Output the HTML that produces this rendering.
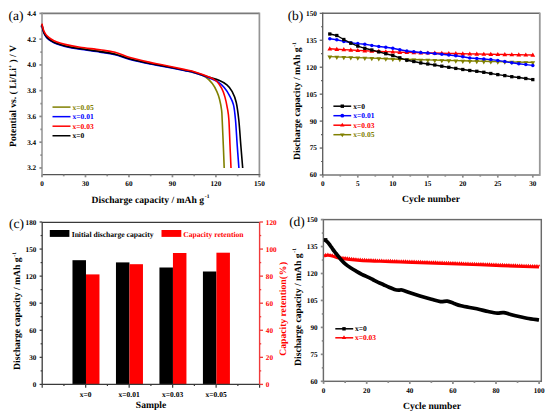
<!DOCTYPE html>
<html><head><meta charset="utf-8"><style>
html,body{margin:0;padding:0;background:#fff;width:550px;height:414px;overflow:hidden}
svg{display:block}
text{font-family:"Liberation Serif", serif;text-rendering:geometricPrecision}
</style></head><body>
<svg width="550" height="414" viewBox="0 0 550 414">
<rect width="550" height="414" fill="#fff"/>
<line x1="42.00" y1="13.40" x2="259.40" y2="13.40" stroke="#7a7a7a" stroke-width="1.6"/>
<line x1="259.40" y1="12.60" x2="259.40" y2="175.40" stroke="#959595" stroke-width="1.7"/>
<line x1="42.00" y1="174.70" x2="260.25" y2="174.70" stroke="#555555" stroke-width="1.3"/>
<line x1="42.00" y1="12.60" x2="42.00" y2="175.40" stroke="#999999" stroke-width="1.6"/>
<line x1="39.40" y1="13.40" x2="42.00" y2="13.40" stroke="#8a8a8a" stroke-width="1.7"/>
<text x="36.20" y="15.80" font-size="7.2" text-anchor="end" font-weight="bold" fill="#000" >4.4</text>
<line x1="40.40" y1="26.28" x2="42.00" y2="26.28" stroke="#8a8a8a" stroke-width="1.7"/>
<line x1="39.40" y1="39.16" x2="42.00" y2="39.16" stroke="#8a8a8a" stroke-width="1.7"/>
<text x="36.20" y="41.56" font-size="7.2" text-anchor="end" font-weight="bold" fill="#000" >4.2</text>
<line x1="40.40" y1="52.04" x2="42.00" y2="52.04" stroke="#8a8a8a" stroke-width="1.7"/>
<line x1="39.40" y1="64.92" x2="42.00" y2="64.92" stroke="#8a8a8a" stroke-width="1.7"/>
<text x="36.20" y="67.32" font-size="7.2" text-anchor="end" font-weight="bold" fill="#000" >4.0</text>
<line x1="40.40" y1="77.80" x2="42.00" y2="77.80" stroke="#8a8a8a" stroke-width="1.7"/>
<line x1="39.40" y1="90.68" x2="42.00" y2="90.68" stroke="#8a8a8a" stroke-width="1.7"/>
<text x="36.20" y="93.08" font-size="7.2" text-anchor="end" font-weight="bold" fill="#000" >3.8</text>
<line x1="40.40" y1="103.56" x2="42.00" y2="103.56" stroke="#8a8a8a" stroke-width="1.7"/>
<line x1="39.40" y1="116.44" x2="42.00" y2="116.44" stroke="#8a8a8a" stroke-width="1.7"/>
<text x="36.20" y="118.84" font-size="7.2" text-anchor="end" font-weight="bold" fill="#000" >3.6</text>
<line x1="40.40" y1="129.32" x2="42.00" y2="129.32" stroke="#8a8a8a" stroke-width="1.7"/>
<line x1="39.40" y1="142.20" x2="42.00" y2="142.20" stroke="#8a8a8a" stroke-width="1.7"/>
<text x="36.20" y="144.60" font-size="7.2" text-anchor="end" font-weight="bold" fill="#000" >3.4</text>
<line x1="40.40" y1="155.08" x2="42.00" y2="155.08" stroke="#8a8a8a" stroke-width="1.7"/>
<line x1="39.40" y1="167.96" x2="42.00" y2="167.96" stroke="#8a8a8a" stroke-width="1.7"/>
<text x="36.20" y="170.36" font-size="7.2" text-anchor="end" font-weight="bold" fill="#000" >3.2</text>
<line x1="42.00" y1="174.70" x2="42.00" y2="177.30" stroke="#8a8a8a" stroke-width="1.7"/>
<text x="42.00" y="186.40" font-size="7.2" text-anchor="middle" font-weight="bold" fill="#000" >0</text>
<line x1="63.74" y1="174.70" x2="63.74" y2="176.30" stroke="#8a8a8a" stroke-width="1.7"/>
<line x1="85.48" y1="174.70" x2="85.48" y2="177.30" stroke="#8a8a8a" stroke-width="1.7"/>
<text x="85.48" y="186.40" font-size="7.2" text-anchor="middle" font-weight="bold" fill="#000" >30</text>
<line x1="107.22" y1="174.70" x2="107.22" y2="176.30" stroke="#8a8a8a" stroke-width="1.7"/>
<line x1="128.96" y1="174.70" x2="128.96" y2="177.30" stroke="#8a8a8a" stroke-width="1.7"/>
<text x="128.96" y="186.40" font-size="7.2" text-anchor="middle" font-weight="bold" fill="#000" >60</text>
<line x1="150.70" y1="174.70" x2="150.70" y2="176.30" stroke="#8a8a8a" stroke-width="1.7"/>
<line x1="172.44" y1="174.70" x2="172.44" y2="177.30" stroke="#8a8a8a" stroke-width="1.7"/>
<text x="172.44" y="186.40" font-size="7.2" text-anchor="middle" font-weight="bold" fill="#000" >90</text>
<line x1="194.18" y1="174.70" x2="194.18" y2="176.30" stroke="#8a8a8a" stroke-width="1.7"/>
<line x1="215.92" y1="174.70" x2="215.92" y2="177.30" stroke="#8a8a8a" stroke-width="1.7"/>
<text x="215.92" y="186.40" font-size="7.2" text-anchor="middle" font-weight="bold" fill="#000" >120</text>
<line x1="237.66" y1="174.70" x2="237.66" y2="176.30" stroke="#8a8a8a" stroke-width="1.7"/>
<line x1="259.40" y1="174.70" x2="259.40" y2="177.30" stroke="#8a8a8a" stroke-width="1.7"/>
<text x="259.40" y="186.40" font-size="7.2" text-anchor="middle" font-weight="bold" fill="#000" >150</text>
<path d="M42.00,24.50 C42.13,25.25 42.42,27.50 42.80,29.00 C43.18,30.50 43.60,32.08 44.30,33.50 C45.00,34.92 45.88,36.33 47.00,37.50 C48.12,38.67 49.33,39.50 51.00,40.50 C52.67,41.50 54.67,42.62 57.00,43.50 C59.33,44.38 61.17,44.97 65.00,45.80 C68.83,46.63 74.17,47.58 80.00,48.50 C85.83,49.42 94.17,50.38 100.00,51.30 C105.83,52.22 110.00,52.77 115.00,54.00 C120.00,55.23 124.17,57.12 130.00,58.70 C135.83,60.28 144.67,62.35 150.00,63.50 C155.33,64.65 156.33,64.48 162.00,65.60 C167.67,66.72 178.50,68.97 184.00,70.20 C189.50,71.43 191.40,71.87 195.00,73.00 C198.60,74.13 202.72,75.23 205.60,77.00 C208.48,78.77 210.42,81.17 212.30,83.60 C214.18,86.03 215.68,88.95 216.90,91.60 C218.12,94.25 218.82,96.40 219.60,99.50 C220.38,102.60 221.17,106.78 221.60,110.20 C222.03,113.62 221.92,114.20 222.20,120.00 C222.48,125.80 222.97,137.00 223.30,145.00 C223.63,153.00 224.05,164.17 224.20,168.00" fill="none" stroke="#808000" stroke-width="1.6" stroke-linejoin="round"/>
<path d="M42.00,24.90 C42.13,25.63 42.42,27.80 42.80,29.30 C43.18,30.80 43.60,32.47 44.30,33.90 C45.00,35.33 45.88,36.70 47.00,37.90 C48.12,39.10 49.33,40.07 51.00,41.10 C52.67,42.13 54.67,43.20 57.00,44.10 C59.33,45.00 61.17,45.63 65.00,46.50 C68.83,47.37 74.17,48.37 80.00,49.30 C85.83,50.23 94.17,51.20 100.00,52.10 C105.83,53.00 110.00,53.48 115.00,54.70 C120.00,55.92 124.17,57.85 130.00,59.40 C135.83,60.95 144.67,62.88 150.00,64.00 C155.33,65.12 156.33,65.02 162.00,66.10 C167.67,67.18 178.50,69.37 184.00,70.50 C189.50,71.63 190.95,71.72 195.00,72.90 C199.05,74.08 204.53,76.15 208.30,77.60 C212.07,79.05 214.95,79.93 217.60,81.60 C220.25,83.27 222.22,85.27 224.20,87.60 C226.18,89.93 227.95,92.72 229.50,95.60 C231.05,98.48 232.50,100.83 233.50,104.90 C234.50,108.97 234.88,113.32 235.50,120.00 C236.12,126.68 236.63,137.00 237.20,145.00 C237.77,153.00 238.62,164.17 238.90,168.00" fill="none" stroke="#0000ff" stroke-width="1.6" stroke-linejoin="round"/>
<path d="M42.00,24.40 C42.13,25.13 42.42,27.30 42.80,28.80 C43.18,30.30 43.60,31.97 44.30,33.40 C45.00,34.83 45.88,36.20 47.00,37.40 C48.12,38.60 49.33,39.57 51.00,40.60 C52.67,41.63 54.67,42.70 57.00,43.60 C59.33,44.50 61.17,45.13 65.00,46.00 C68.83,46.87 74.17,47.87 80.00,48.80 C85.83,49.73 94.17,50.70 100.00,51.60 C105.83,52.50 110.00,52.98 115.00,54.20 C120.00,55.42 124.17,57.35 130.00,58.90 C135.83,60.45 144.67,62.38 150.00,63.50 C155.33,64.62 156.33,64.52 162.00,65.60 C167.67,66.68 178.50,68.87 184.00,70.00 C189.50,71.13 190.95,71.23 195.00,72.40 C199.05,73.57 204.32,75.68 208.30,77.00 C212.28,78.32 215.80,78.98 218.90,80.30 C222.00,81.62 224.68,83.02 226.90,84.90 C229.12,86.78 230.65,88.72 232.20,91.60 C233.75,94.48 235.10,97.47 236.20,102.20 C237.30,106.93 238.03,112.87 238.80,120.00 C239.57,127.13 240.15,137.00 240.80,145.00 C241.45,153.00 242.38,164.17 242.70,168.00" fill="none" stroke="#000000" stroke-width="1.6" stroke-linejoin="round"/>
<path d="M42.00,23.60 C42.13,24.27 42.42,26.23 42.80,27.60 C43.18,28.97 43.60,30.43 44.30,31.80 C45.00,33.17 45.88,34.60 47.00,35.80 C48.12,37.00 49.33,37.97 51.00,39.00 C52.67,40.03 54.67,41.10 57.00,42.00 C59.33,42.90 61.17,43.53 65.00,44.40 C68.83,45.27 74.17,46.30 80.00,47.20 C85.83,48.10 94.17,48.95 100.00,49.80 C105.83,50.65 110.00,51.00 115.00,52.30 C120.00,53.60 124.17,55.92 130.00,57.60 C135.83,59.28 144.67,61.20 150.00,62.40 C155.33,63.60 156.33,63.63 162.00,64.80 C167.67,65.97 178.50,68.22 184.00,69.40 C189.50,70.58 190.95,70.68 195.00,71.90 C199.05,73.12 204.75,75.18 208.30,76.70 C211.85,78.22 214.08,79.08 216.30,81.00 C218.52,82.92 220.17,85.55 221.60,88.20 C223.03,90.85 223.92,93.47 224.90,96.90 C225.88,100.33 226.83,104.95 227.50,108.80 C228.17,112.65 228.48,113.97 228.90,120.00 C229.32,126.03 229.65,137.00 230.00,145.00 C230.35,153.00 230.83,164.17 231.00,168.00" fill="none" stroke="#ff0000" stroke-width="1.6" stroke-linejoin="round"/>
<line x1="52.50" y1="107.10" x2="70.50" y2="107.10" stroke="#808000" stroke-width="1.5"/>
<text x="72.50" y="109.70" font-size="7.5" text-anchor="start" font-weight="bold" fill="#808000" >x=0.05</text>
<line x1="52.50" y1="116.65" x2="70.50" y2="116.65" stroke="#0000ff" stroke-width="1.5"/>
<text x="72.50" y="119.25" font-size="7.5" text-anchor="start" font-weight="bold" fill="#0000ff" >x=0.01</text>
<line x1="52.50" y1="126.20" x2="70.50" y2="126.20" stroke="#ff0000" stroke-width="1.5"/>
<text x="72.50" y="128.80" font-size="7.5" text-anchor="start" font-weight="bold" fill="#ff0000" >x=0.03</text>
<line x1="52.50" y1="135.75" x2="70.50" y2="135.75" stroke="#000" stroke-width="1.5"/>
<text x="72.50" y="138.35" font-size="7.5" text-anchor="start" font-weight="bold" fill="#000" >x=0</text>
<text x="16.00" y="20.00" font-size="13.5" text-anchor="middle" font-weight="normal" fill="#000" >(a)</text>
<text transform="translate(16.2,96) rotate(-90)" font-size="9.6" text-anchor="middle" font-weight="bold" fill="#000">Potential vs. ( Li/Li<tspan dy="-4" font-size="5.5">+</tspan><tspan dy="4"> ) / V</tspan></text>
<text x="150.5" y="202.9" font-size="9.6" text-anchor="middle" font-weight="bold" fill="#000">Discharge capacity / mAh g<tspan dx="0.8" dy="-4.6" font-size="5.5">-1</tspan></text>
<line x1="322.70" y1="13.30" x2="539.80" y2="13.30" stroke="#6a6a6a" stroke-width="1.4"/>
<line x1="539.80" y1="12.60" x2="539.80" y2="175.90" stroke="#999999" stroke-width="1.8"/>
<line x1="322.05" y1="175.00" x2="539.80" y2="175.00" stroke="#999999" stroke-width="1.8"/>
<line x1="322.70" y1="12.60" x2="322.70" y2="175.90" stroke="#5a5a5a" stroke-width="1.3"/>
<line x1="319.70" y1="13.30" x2="322.70" y2="13.30" stroke="#5a5a5a" stroke-width="1.2"/>
<text x="316.90" y="15.70" font-size="7.2" text-anchor="end" font-weight="bold" fill="#000" >150</text>
<line x1="321.10" y1="26.77" x2="322.70" y2="26.77" stroke="#5a5a5a" stroke-width="1.2"/>
<line x1="319.70" y1="40.25" x2="322.70" y2="40.25" stroke="#5a5a5a" stroke-width="1.2"/>
<text x="316.90" y="42.65" font-size="7.2" text-anchor="end" font-weight="bold" fill="#000" >135</text>
<line x1="321.10" y1="53.72" x2="322.70" y2="53.72" stroke="#5a5a5a" stroke-width="1.2"/>
<line x1="319.70" y1="67.20" x2="322.70" y2="67.20" stroke="#5a5a5a" stroke-width="1.2"/>
<text x="316.90" y="69.60" font-size="7.2" text-anchor="end" font-weight="bold" fill="#000" >120</text>
<line x1="321.10" y1="80.67" x2="322.70" y2="80.67" stroke="#5a5a5a" stroke-width="1.2"/>
<line x1="319.70" y1="94.15" x2="322.70" y2="94.15" stroke="#5a5a5a" stroke-width="1.2"/>
<text x="316.90" y="96.55" font-size="7.2" text-anchor="end" font-weight="bold" fill="#000" >105</text>
<line x1="321.10" y1="107.62" x2="322.70" y2="107.62" stroke="#5a5a5a" stroke-width="1.2"/>
<line x1="319.70" y1="121.10" x2="322.70" y2="121.10" stroke="#5a5a5a" stroke-width="1.2"/>
<text x="316.90" y="123.50" font-size="7.2" text-anchor="end" font-weight="bold" fill="#000" >90</text>
<line x1="321.10" y1="134.58" x2="322.70" y2="134.58" stroke="#5a5a5a" stroke-width="1.2"/>
<line x1="319.70" y1="148.05" x2="322.70" y2="148.05" stroke="#5a5a5a" stroke-width="1.2"/>
<text x="316.90" y="150.45" font-size="7.2" text-anchor="end" font-weight="bold" fill="#000" >75</text>
<line x1="321.10" y1="161.52" x2="322.70" y2="161.52" stroke="#5a5a5a" stroke-width="1.2"/>
<line x1="319.70" y1="175.00" x2="322.70" y2="175.00" stroke="#5a5a5a" stroke-width="1.2"/>
<text x="316.90" y="177.40" font-size="7.2" text-anchor="end" font-weight="bold" fill="#000" >60</text>
<line x1="322.80" y1="175.00" x2="322.80" y2="177.60" stroke="#8a8a8a" stroke-width="1.7"/>
<text x="322.80" y="186.20" font-size="7.2" text-anchor="middle" font-weight="bold" fill="#000" >0</text>
<line x1="340.30" y1="175.00" x2="340.30" y2="176.60" stroke="#8a8a8a" stroke-width="1.7"/>
<line x1="357.80" y1="175.00" x2="357.80" y2="177.60" stroke="#8a8a8a" stroke-width="1.7"/>
<text x="357.80" y="186.20" font-size="7.2" text-anchor="middle" font-weight="bold" fill="#000" >5</text>
<line x1="375.30" y1="175.00" x2="375.30" y2="176.60" stroke="#8a8a8a" stroke-width="1.7"/>
<line x1="392.80" y1="175.00" x2="392.80" y2="177.60" stroke="#8a8a8a" stroke-width="1.7"/>
<text x="392.80" y="186.20" font-size="7.2" text-anchor="middle" font-weight="bold" fill="#000" >10</text>
<line x1="410.30" y1="175.00" x2="410.30" y2="176.60" stroke="#8a8a8a" stroke-width="1.7"/>
<line x1="427.80" y1="175.00" x2="427.80" y2="177.60" stroke="#8a8a8a" stroke-width="1.7"/>
<text x="427.80" y="186.20" font-size="7.2" text-anchor="middle" font-weight="bold" fill="#000" >15</text>
<line x1="445.30" y1="175.00" x2="445.30" y2="176.60" stroke="#8a8a8a" stroke-width="1.7"/>
<line x1="462.80" y1="175.00" x2="462.80" y2="177.60" stroke="#8a8a8a" stroke-width="1.7"/>
<text x="462.80" y="186.20" font-size="7.2" text-anchor="middle" font-weight="bold" fill="#000" >20</text>
<line x1="480.30" y1="175.00" x2="480.30" y2="176.60" stroke="#8a8a8a" stroke-width="1.7"/>
<line x1="497.80" y1="175.00" x2="497.80" y2="177.60" stroke="#8a8a8a" stroke-width="1.7"/>
<text x="497.80" y="186.20" font-size="7.2" text-anchor="middle" font-weight="bold" fill="#000" >25</text>
<line x1="515.30" y1="175.00" x2="515.30" y2="176.60" stroke="#8a8a8a" stroke-width="1.7"/>
<line x1="532.80" y1="175.00" x2="532.80" y2="177.60" stroke="#8a8a8a" stroke-width="1.7"/>
<text x="532.80" y="186.20" font-size="7.2" text-anchor="middle" font-weight="bold" fill="#000" >30</text>
<polyline points="329.80,56.60 336.80,56.86 343.80,57.12 350.80,57.38 357.80,57.64 364.80,57.90 371.80,58.16 378.80,58.42 385.80,58.68 392.80,58.94 399.80,59.20 406.80,59.38 413.80,59.56 420.80,59.74 427.80,59.92 434.80,60.10 441.80,60.28 448.80,60.46 455.80,60.64 462.80,60.82 469.80,61.00 476.80,61.16 483.80,61.31 490.80,61.47 497.80,61.62 504.80,61.78 511.80,61.93 518.80,62.09 525.80,62.24 532.80,62.40" fill="none" stroke="#808000" stroke-width="1.4" stroke-linejoin="round" stroke-linecap="round"/>
<polygon points="327.40,55.51 332.20,55.51 329.80,59.69" fill="#808000"/>
<polygon points="334.40,55.77 339.20,55.77 336.80,59.95" fill="#808000"/>
<polygon points="341.40,56.03 346.20,56.03 343.80,60.21" fill="#808000"/>
<polygon points="348.40,56.29 353.20,56.29 350.80,60.47" fill="#808000"/>
<polygon points="355.40,56.55 360.20,56.55 357.80,60.73" fill="#808000"/>
<polygon points="362.40,56.81 367.20,56.81 364.80,60.99" fill="#808000"/>
<polygon points="369.40,57.07 374.20,57.07 371.80,61.25" fill="#808000"/>
<polygon points="376.40,57.33 381.20,57.33 378.80,61.51" fill="#808000"/>
<polygon points="383.40,57.59 388.20,57.59 385.80,61.77" fill="#808000"/>
<polygon points="390.40,57.85 395.20,57.85 392.80,62.03" fill="#808000"/>
<polygon points="397.40,58.11 402.20,58.11 399.80,62.29" fill="#808000"/>
<polygon points="404.40,58.29 409.20,58.29 406.80,62.47" fill="#808000"/>
<polygon points="411.40,58.47 416.20,58.47 413.80,62.65" fill="#808000"/>
<polygon points="418.40,58.65 423.20,58.65 420.80,62.83" fill="#808000"/>
<polygon points="425.40,58.83 430.20,58.83 427.80,63.01" fill="#808000"/>
<polygon points="432.40,59.01 437.20,59.01 434.80,63.19" fill="#808000"/>
<polygon points="439.40,59.19 444.20,59.19 441.80,63.37" fill="#808000"/>
<polygon points="446.40,59.37 451.20,59.37 448.80,63.55" fill="#808000"/>
<polygon points="453.40,59.55 458.20,59.55 455.80,63.73" fill="#808000"/>
<polygon points="460.40,59.73 465.20,59.73 462.80,63.91" fill="#808000"/>
<polygon points="467.40,59.91 472.20,59.91 469.80,64.09" fill="#808000"/>
<polygon points="474.40,60.07 479.20,60.07 476.80,64.24" fill="#808000"/>
<polygon points="481.40,60.22 486.20,60.22 483.80,64.40" fill="#808000"/>
<polygon points="488.40,60.38 493.20,60.38 490.80,64.55" fill="#808000"/>
<polygon points="495.40,60.53 500.20,60.53 497.80,64.71" fill="#808000"/>
<polygon points="502.40,60.69 507.20,60.69 504.80,64.87" fill="#808000"/>
<polygon points="509.40,60.85 514.20,60.85 511.80,65.02" fill="#808000"/>
<polygon points="516.40,61.00 521.20,61.00 518.80,65.18" fill="#808000"/>
<polygon points="523.40,61.16 528.20,61.16 525.80,65.33" fill="#808000"/>
<polygon points="530.40,61.31 535.20,61.31 532.80,65.49" fill="#808000"/>
<polyline points="329.80,48.80 336.80,49.20 343.80,49.60 350.80,50.00 357.80,50.40 364.80,50.80 371.80,51.08 378.80,51.36 385.80,51.64 392.80,51.92 399.80,52.20 406.80,52.37 413.80,52.54 420.80,52.71 427.80,52.88 434.80,53.05 441.80,53.22 448.80,53.39 455.80,53.56 462.80,53.73 469.80,53.90 476.80,54.02 483.80,54.14 490.80,54.27 497.80,54.39 504.80,54.51 511.80,54.63 518.80,54.76 525.80,54.88 532.80,55.00" fill="none" stroke="#ff0000" stroke-width="1.4" stroke-linejoin="round" stroke-linecap="round"/>
<polygon points="327.40,50.49 332.20,50.49 329.80,46.31" fill="#ff0000"/>
<polygon points="334.40,50.89 339.20,50.89 336.80,46.71" fill="#ff0000"/>
<polygon points="341.40,51.29 346.20,51.29 343.80,47.11" fill="#ff0000"/>
<polygon points="348.40,51.69 353.20,51.69 350.80,47.51" fill="#ff0000"/>
<polygon points="355.40,52.09 360.20,52.09 357.80,47.91" fill="#ff0000"/>
<polygon points="362.40,52.49 367.20,52.49 364.80,48.31" fill="#ff0000"/>
<polygon points="369.40,52.77 374.20,52.77 371.80,48.59" fill="#ff0000"/>
<polygon points="376.40,53.05 381.20,53.05 378.80,48.87" fill="#ff0000"/>
<polygon points="383.40,53.33 388.20,53.33 385.80,49.15" fill="#ff0000"/>
<polygon points="390.40,53.61 395.20,53.61 392.80,49.43" fill="#ff0000"/>
<polygon points="397.40,53.89 402.20,53.89 399.80,49.71" fill="#ff0000"/>
<polygon points="404.40,54.06 409.20,54.06 406.80,49.88" fill="#ff0000"/>
<polygon points="411.40,54.23 416.20,54.23 413.80,50.05" fill="#ff0000"/>
<polygon points="418.40,54.40 423.20,54.40 420.80,50.22" fill="#ff0000"/>
<polygon points="425.40,54.57 430.20,54.57 427.80,50.39" fill="#ff0000"/>
<polygon points="432.40,54.74 437.20,54.74 434.80,50.56" fill="#ff0000"/>
<polygon points="439.40,54.91 444.20,54.91 441.80,50.73" fill="#ff0000"/>
<polygon points="446.40,55.08 451.20,55.08 448.80,50.90" fill="#ff0000"/>
<polygon points="453.40,55.25 458.20,55.25 455.80,51.07" fill="#ff0000"/>
<polygon points="460.40,55.42 465.20,55.42 462.80,51.24" fill="#ff0000"/>
<polygon points="467.40,55.59 472.20,55.59 469.80,51.41" fill="#ff0000"/>
<polygon points="474.40,55.71 479.20,55.71 476.80,51.53" fill="#ff0000"/>
<polygon points="481.40,55.83 486.20,55.83 483.80,51.66" fill="#ff0000"/>
<polygon points="488.40,55.95 493.20,55.95 490.80,51.78" fill="#ff0000"/>
<polygon points="495.40,56.08 500.20,56.08 497.80,51.90" fill="#ff0000"/>
<polygon points="502.40,56.20 507.20,56.20 504.80,52.02" fill="#ff0000"/>
<polygon points="509.40,56.32 514.20,56.32 511.80,52.15" fill="#ff0000"/>
<polygon points="516.40,56.44 521.20,56.44 518.80,52.27" fill="#ff0000"/>
<polygon points="523.40,56.57 528.20,56.57 525.80,52.39" fill="#ff0000"/>
<polygon points="530.40,56.69 535.20,56.69 532.80,52.51" fill="#ff0000"/>
<polyline points="329.80,38.80 336.80,39.80 343.80,41.40 350.80,42.70 357.80,43.60 364.80,44.30 371.80,45.40 378.80,46.50 385.80,47.30 392.80,48.30 399.80,49.80 406.80,51.00 413.80,51.80 420.80,52.50 427.80,53.00 434.80,53.60 441.80,54.20 448.80,55.00 455.80,55.70 462.80,56.80 469.80,58.00 476.80,58.50 483.80,59.00 490.80,59.60 497.80,60.40 504.80,61.60 511.80,62.80 518.80,63.80 525.80,64.60 532.80,65.40" fill="none" stroke="#0000ff" stroke-width="1.4" stroke-linejoin="round" stroke-linecap="round"/>
<circle cx="329.80" cy="38.80" r="1.75" fill="#0000ff"/>
<circle cx="336.80" cy="39.80" r="1.75" fill="#0000ff"/>
<circle cx="343.80" cy="41.40" r="1.75" fill="#0000ff"/>
<circle cx="350.80" cy="42.70" r="1.75" fill="#0000ff"/>
<circle cx="357.80" cy="43.60" r="1.75" fill="#0000ff"/>
<circle cx="364.80" cy="44.30" r="1.75" fill="#0000ff"/>
<circle cx="371.80" cy="45.40" r="1.75" fill="#0000ff"/>
<circle cx="378.80" cy="46.50" r="1.75" fill="#0000ff"/>
<circle cx="385.80" cy="47.30" r="1.75" fill="#0000ff"/>
<circle cx="392.80" cy="48.30" r="1.75" fill="#0000ff"/>
<circle cx="399.80" cy="49.80" r="1.75" fill="#0000ff"/>
<circle cx="406.80" cy="51.00" r="1.75" fill="#0000ff"/>
<circle cx="413.80" cy="51.80" r="1.75" fill="#0000ff"/>
<circle cx="420.80" cy="52.50" r="1.75" fill="#0000ff"/>
<circle cx="427.80" cy="53.00" r="1.75" fill="#0000ff"/>
<circle cx="434.80" cy="53.60" r="1.75" fill="#0000ff"/>
<circle cx="441.80" cy="54.20" r="1.75" fill="#0000ff"/>
<circle cx="448.80" cy="55.00" r="1.75" fill="#0000ff"/>
<circle cx="455.80" cy="55.70" r="1.75" fill="#0000ff"/>
<circle cx="462.80" cy="56.80" r="1.75" fill="#0000ff"/>
<circle cx="469.80" cy="58.00" r="1.75" fill="#0000ff"/>
<circle cx="476.80" cy="58.50" r="1.75" fill="#0000ff"/>
<circle cx="483.80" cy="59.00" r="1.75" fill="#0000ff"/>
<circle cx="490.80" cy="59.60" r="1.75" fill="#0000ff"/>
<circle cx="497.80" cy="60.40" r="1.75" fill="#0000ff"/>
<circle cx="504.80" cy="61.60" r="1.75" fill="#0000ff"/>
<circle cx="511.80" cy="62.80" r="1.75" fill="#0000ff"/>
<circle cx="518.80" cy="63.80" r="1.75" fill="#0000ff"/>
<circle cx="525.80" cy="64.60" r="1.75" fill="#0000ff"/>
<circle cx="532.80" cy="65.40" r="1.75" fill="#0000ff"/>
<polyline points="329.80,34.00 336.80,35.50 343.80,39.50 350.80,43.20 357.80,46.10 364.80,48.30 371.80,50.00 378.80,51.90 385.80,53.70 392.80,55.50 399.80,57.80 406.80,60.20 413.80,61.50 420.80,63.00 427.80,64.00 434.80,65.00 441.80,66.20 448.80,67.30 455.80,68.40 462.80,69.50 469.80,70.50 476.80,71.30 483.80,72.30 490.80,73.50 497.80,74.60 504.80,75.60 511.80,76.70 518.80,77.50 525.80,78.50 532.80,79.60" fill="none" stroke="#000" stroke-width="1.4" stroke-linejoin="round" stroke-linecap="round"/>
<rect x="328.15" y="32.35" width="3.3" height="3.3" fill="#000"/>
<rect x="335.15" y="33.85" width="3.3" height="3.3" fill="#000"/>
<rect x="342.15" y="37.85" width="3.3" height="3.3" fill="#000"/>
<rect x="349.15" y="41.55" width="3.3" height="3.3" fill="#000"/>
<rect x="356.15" y="44.45" width="3.3" height="3.3" fill="#000"/>
<rect x="363.15" y="46.65" width="3.3" height="3.3" fill="#000"/>
<rect x="370.15" y="48.35" width="3.3" height="3.3" fill="#000"/>
<rect x="377.15" y="50.25" width="3.3" height="3.3" fill="#000"/>
<rect x="384.15" y="52.05" width="3.3" height="3.3" fill="#000"/>
<rect x="391.15" y="53.85" width="3.3" height="3.3" fill="#000"/>
<rect x="398.15" y="56.15" width="3.3" height="3.3" fill="#000"/>
<rect x="405.15" y="58.55" width="3.3" height="3.3" fill="#000"/>
<rect x="412.15" y="59.85" width="3.3" height="3.3" fill="#000"/>
<rect x="419.15" y="61.35" width="3.3" height="3.3" fill="#000"/>
<rect x="426.15" y="62.35" width="3.3" height="3.3" fill="#000"/>
<rect x="433.15" y="63.35" width="3.3" height="3.3" fill="#000"/>
<rect x="440.15" y="64.55" width="3.3" height="3.3" fill="#000"/>
<rect x="447.15" y="65.65" width="3.3" height="3.3" fill="#000"/>
<rect x="454.15" y="66.75" width="3.3" height="3.3" fill="#000"/>
<rect x="461.15" y="67.85" width="3.3" height="3.3" fill="#000"/>
<rect x="468.15" y="68.85" width="3.3" height="3.3" fill="#000"/>
<rect x="475.15" y="69.65" width="3.3" height="3.3" fill="#000"/>
<rect x="482.15" y="70.65" width="3.3" height="3.3" fill="#000"/>
<rect x="489.15" y="71.85" width="3.3" height="3.3" fill="#000"/>
<rect x="496.15" y="72.95" width="3.3" height="3.3" fill="#000"/>
<rect x="503.15" y="73.95" width="3.3" height="3.3" fill="#000"/>
<rect x="510.15" y="75.05" width="3.3" height="3.3" fill="#000"/>
<rect x="517.15" y="75.85" width="3.3" height="3.3" fill="#000"/>
<rect x="524.15" y="76.85" width="3.3" height="3.3" fill="#000"/>
<rect x="531.15" y="77.95" width="3.3" height="3.3" fill="#000"/>
<line x1="333.40" y1="106.20" x2="351.20" y2="106.20" stroke="#000" stroke-width="1.5"/>
<rect x="340.60" y="104.50" width="3.4" height="3.4" fill="#000"/>
<text x="353.30" y="108.80" font-size="7.5" text-anchor="start" font-weight="bold" fill="#000" >x=0</text>
<line x1="333.40" y1="115.70" x2="351.20" y2="115.70" stroke="#0000ff" stroke-width="1.5"/>
<circle cx="342.30" cy="115.70" r="1.9" fill="#0000ff"/>
<text x="353.30" y="118.30" font-size="7.5" text-anchor="start" font-weight="bold" fill="#0000ff" >x=0.01</text>
<line x1="333.40" y1="125.20" x2="351.20" y2="125.20" stroke="#ff0000" stroke-width="1.5"/>
<polygon points="340.10,126.51 344.50,126.51 342.30,122.69" fill="#ff0000"/>
<text x="353.30" y="127.80" font-size="7.5" text-anchor="start" font-weight="bold" fill="#ff0000" >x=0.03</text>
<line x1="333.40" y1="134.70" x2="351.20" y2="134.70" stroke="#808000" stroke-width="1.5"/>
<polygon points="340.10,133.39 344.50,133.39 342.30,137.21" fill="#808000"/>
<text x="353.30" y="137.30" font-size="7.5" text-anchor="start" font-weight="bold" fill="#808000" >x=0.05</text>
<text x="295.50" y="20.20" font-size="13.5" text-anchor="middle" font-weight="normal" fill="#000" >(b)</text>
<text transform="translate(300.2,101.1) rotate(-90)" font-size="9.6" text-anchor="middle" font-weight="bold" fill="#000">Discharge capacity / mAh g<tspan dx="0.8" dy="-4.6" font-size="5.5">-1</tspan></text>
<text x="431.00" y="201.50" font-size="9.6" text-anchor="middle" font-weight="bold" fill="#000" >Cycle number</text>
<rect x="72.48" y="260.20" width="13.5" height="124.20" fill="#000"/>
<rect x="85.98" y="274.40" width="13.5" height="110.00" fill="#ff0000"/>
<rect x="115.96" y="262.40" width="13.5" height="122.00" fill="#000"/>
<rect x="129.46" y="264.20" width="13.5" height="120.20" fill="#ff0000"/>
<rect x="159.44" y="267.50" width="13.5" height="116.90" fill="#000"/>
<rect x="172.94" y="253.00" width="13.5" height="131.40" fill="#ff0000"/>
<rect x="202.92" y="271.50" width="13.5" height="112.90" fill="#000"/>
<rect x="216.42" y="252.70" width="13.5" height="131.70" fill="#ff0000"/>
<line x1="42.20" y1="222.40" x2="259.60" y2="222.40" stroke="#3a3a3a" stroke-width="1.3"/>
<line x1="42.20" y1="384.40" x2="259.60" y2="384.40" stroke="#3a3a3a" stroke-width="1.3"/>
<line x1="42.20" y1="222.00" x2="42.20" y2="384.40" stroke="#3a3a3a" stroke-width="1.3"/>
<line x1="259.60" y1="222.00" x2="259.60" y2="384.40" stroke="#f03a3a" stroke-width="1.4"/>
<line x1="39.60" y1="222.00" x2="42.20" y2="222.00" stroke="#3a3a3a" stroke-width="1.2"/>
<text x="36.40" y="225.00" font-size="7.2" text-anchor="end" font-weight="bold" fill="#000" >180</text>
<line x1="40.60" y1="235.53" x2="42.20" y2="235.53" stroke="#3a3a3a" stroke-width="1.2"/>
<line x1="39.60" y1="249.07" x2="42.20" y2="249.07" stroke="#3a3a3a" stroke-width="1.2"/>
<text x="36.40" y="252.07" font-size="7.2" text-anchor="end" font-weight="bold" fill="#000" >150</text>
<line x1="40.60" y1="262.60" x2="42.20" y2="262.60" stroke="#3a3a3a" stroke-width="1.2"/>
<line x1="39.60" y1="276.13" x2="42.20" y2="276.13" stroke="#3a3a3a" stroke-width="1.2"/>
<text x="36.40" y="279.13" font-size="7.2" text-anchor="end" font-weight="bold" fill="#000" >120</text>
<line x1="40.60" y1="289.67" x2="42.20" y2="289.67" stroke="#3a3a3a" stroke-width="1.2"/>
<line x1="39.60" y1="303.20" x2="42.20" y2="303.20" stroke="#3a3a3a" stroke-width="1.2"/>
<text x="36.40" y="306.20" font-size="7.2" text-anchor="end" font-weight="bold" fill="#000" >90</text>
<line x1="40.60" y1="316.73" x2="42.20" y2="316.73" stroke="#3a3a3a" stroke-width="1.2"/>
<line x1="39.60" y1="330.27" x2="42.20" y2="330.27" stroke="#3a3a3a" stroke-width="1.2"/>
<text x="36.40" y="333.27" font-size="7.2" text-anchor="end" font-weight="bold" fill="#000" >60</text>
<line x1="40.60" y1="343.80" x2="42.20" y2="343.80" stroke="#3a3a3a" stroke-width="1.2"/>
<line x1="39.60" y1="357.33" x2="42.20" y2="357.33" stroke="#3a3a3a" stroke-width="1.2"/>
<text x="36.40" y="360.33" font-size="7.2" text-anchor="end" font-weight="bold" fill="#000" >30</text>
<line x1="40.60" y1="370.87" x2="42.20" y2="370.87" stroke="#3a3a3a" stroke-width="1.2"/>
<line x1="39.60" y1="384.40" x2="42.20" y2="384.40" stroke="#3a3a3a" stroke-width="1.2"/>
<text x="36.40" y="387.40" font-size="7.2" text-anchor="end" font-weight="bold" fill="#000" >0</text>
<line x1="259.60" y1="222.00" x2="263.00" y2="222.00" stroke="#f03a3a" stroke-width="1.3"/>
<text x="265.80" y="225.00" font-size="7.2" text-anchor="start" font-weight="bold" fill="#ff0000" >120</text>
<line x1="259.60" y1="235.53" x2="261.20" y2="235.53" stroke="#f03a3a" stroke-width="1.3"/>
<line x1="259.60" y1="249.07" x2="263.00" y2="249.07" stroke="#f03a3a" stroke-width="1.3"/>
<text x="265.80" y="252.07" font-size="7.2" text-anchor="start" font-weight="bold" fill="#ff0000" >100</text>
<line x1="259.60" y1="262.60" x2="261.20" y2="262.60" stroke="#f03a3a" stroke-width="1.3"/>
<line x1="259.60" y1="276.13" x2="263.00" y2="276.13" stroke="#f03a3a" stroke-width="1.3"/>
<text x="265.80" y="279.13" font-size="7.2" text-anchor="start" font-weight="bold" fill="#ff0000" >80</text>
<line x1="259.60" y1="289.67" x2="261.20" y2="289.67" stroke="#f03a3a" stroke-width="1.3"/>
<line x1="259.60" y1="303.20" x2="263.00" y2="303.20" stroke="#f03a3a" stroke-width="1.3"/>
<text x="265.80" y="306.20" font-size="7.2" text-anchor="start" font-weight="bold" fill="#ff0000" >60</text>
<line x1="259.60" y1="316.73" x2="261.20" y2="316.73" stroke="#f03a3a" stroke-width="1.3"/>
<line x1="259.60" y1="330.27" x2="263.00" y2="330.27" stroke="#f03a3a" stroke-width="1.3"/>
<text x="265.80" y="333.27" font-size="7.2" text-anchor="start" font-weight="bold" fill="#ff0000" >40</text>
<line x1="259.60" y1="343.80" x2="261.20" y2="343.80" stroke="#f03a3a" stroke-width="1.3"/>
<line x1="259.60" y1="357.33" x2="263.00" y2="357.33" stroke="#f03a3a" stroke-width="1.3"/>
<text x="265.80" y="360.33" font-size="7.2" text-anchor="start" font-weight="bold" fill="#ff0000" >20</text>
<line x1="259.60" y1="370.87" x2="261.20" y2="370.87" stroke="#f03a3a" stroke-width="1.3"/>
<line x1="259.60" y1="384.40" x2="263.00" y2="384.40" stroke="#f03a3a" stroke-width="1.3"/>
<text x="265.80" y="387.40" font-size="7.2" text-anchor="start" font-weight="bold" fill="#ff0000" >0</text>
<line x1="42.20" y1="384.40" x2="42.20" y2="387.80" stroke="#3a3a3a" stroke-width="1.2"/>
<line x1="63.94" y1="384.40" x2="63.94" y2="386.00" stroke="#3a3a3a" stroke-width="1.2"/>
<line x1="85.68" y1="384.40" x2="85.68" y2="387.80" stroke="#3a3a3a" stroke-width="1.2"/>
<line x1="107.42" y1="384.40" x2="107.42" y2="386.00" stroke="#3a3a3a" stroke-width="1.2"/>
<line x1="129.16" y1="384.40" x2="129.16" y2="387.80" stroke="#3a3a3a" stroke-width="1.2"/>
<line x1="150.90" y1="384.40" x2="150.90" y2="386.00" stroke="#3a3a3a" stroke-width="1.2"/>
<line x1="172.64" y1="384.40" x2="172.64" y2="387.80" stroke="#3a3a3a" stroke-width="1.2"/>
<line x1="194.38" y1="384.40" x2="194.38" y2="386.00" stroke="#3a3a3a" stroke-width="1.2"/>
<line x1="216.12" y1="384.40" x2="216.12" y2="387.80" stroke="#3a3a3a" stroke-width="1.2"/>
<line x1="237.86" y1="384.40" x2="237.86" y2="386.00" stroke="#3a3a3a" stroke-width="1.2"/>
<line x1="259.60" y1="384.40" x2="259.60" y2="387.80" stroke="#3a3a3a" stroke-width="1.2"/>
<text x="85.68" y="397.20" font-size="7.5" text-anchor="middle" font-weight="bold" fill="#000" >x=0</text>
<text x="129.16" y="397.20" font-size="7.5" text-anchor="middle" font-weight="bold" fill="#000" >x=0.01</text>
<text x="172.64" y="397.20" font-size="7.5" text-anchor="middle" font-weight="bold" fill="#000" >x=0.03</text>
<text x="216.12" y="397.20" font-size="7.5" text-anchor="middle" font-weight="bold" fill="#000" >x=0.05</text>
<rect x="49.8" y="230" width="19.6" height="6.9" fill="#000"/>
<text x="71.70" y="236.60" font-size="7.6" text-anchor="start" font-weight="bold" fill="#000" >Initial discharge capacity</text>
<rect x="161.5" y="230" width="19.8" height="6.9" fill="#ff0000"/>
<text x="183.20" y="236.60" font-size="7.6" text-anchor="start" font-weight="bold" fill="#ff0000" >Capacity retention</text>
<text x="16.50" y="228.40" font-size="13.5" text-anchor="middle" font-weight="normal" fill="#000" >(c)</text>
<text transform="translate(20.2,311) rotate(-90)" font-size="9.6" text-anchor="middle" font-weight="bold" fill="#000">Discharge capacity / mAh g<tspan dx="0.8" dy="-4.6" font-size="5.5">-1</tspan></text>
<text x="151.00" y="408.30" font-size="9.6" text-anchor="middle" font-weight="bold" fill="#000" >Sample</text>
<text transform="translate(286,308.7) rotate(-90)" font-size="9.6" text-anchor="middle" font-weight="bold" fill="#ff0000">Capacity retention(&#8202;%&#8202;)</text>
<rect x="323.4" y="219.6" width="217.89999999999998" height="161.70000000000002" fill="none" stroke="#6a6a6a" stroke-width="1.45"/>
<line x1="320.80" y1="219.60" x2="323.40" y2="219.60" stroke="#8a8a8a" stroke-width="1.7"/>
<text x="317.60" y="222.00" font-size="7.2" text-anchor="end" font-weight="bold" fill="#000" >150</text>
<line x1="321.80" y1="233.07" x2="323.40" y2="233.07" stroke="#8a8a8a" stroke-width="1.7"/>
<line x1="320.80" y1="246.55" x2="323.40" y2="246.55" stroke="#8a8a8a" stroke-width="1.7"/>
<text x="317.60" y="248.95" font-size="7.2" text-anchor="end" font-weight="bold" fill="#000" >135</text>
<line x1="321.80" y1="260.02" x2="323.40" y2="260.02" stroke="#8a8a8a" stroke-width="1.7"/>
<line x1="320.80" y1="273.50" x2="323.40" y2="273.50" stroke="#8a8a8a" stroke-width="1.7"/>
<text x="317.60" y="275.90" font-size="7.2" text-anchor="end" font-weight="bold" fill="#000" >120</text>
<line x1="321.80" y1="286.98" x2="323.40" y2="286.98" stroke="#8a8a8a" stroke-width="1.7"/>
<line x1="320.80" y1="300.45" x2="323.40" y2="300.45" stroke="#8a8a8a" stroke-width="1.7"/>
<text x="317.60" y="302.85" font-size="7.2" text-anchor="end" font-weight="bold" fill="#000" >105</text>
<line x1="321.80" y1="313.93" x2="323.40" y2="313.93" stroke="#8a8a8a" stroke-width="1.7"/>
<line x1="320.80" y1="327.40" x2="323.40" y2="327.40" stroke="#8a8a8a" stroke-width="1.7"/>
<text x="317.60" y="329.80" font-size="7.2" text-anchor="end" font-weight="bold" fill="#000" >90</text>
<line x1="321.80" y1="340.88" x2="323.40" y2="340.88" stroke="#8a8a8a" stroke-width="1.7"/>
<line x1="320.80" y1="354.35" x2="323.40" y2="354.35" stroke="#8a8a8a" stroke-width="1.7"/>
<text x="317.60" y="356.75" font-size="7.2" text-anchor="end" font-weight="bold" fill="#000" >75</text>
<line x1="321.80" y1="367.83" x2="323.40" y2="367.83" stroke="#8a8a8a" stroke-width="1.7"/>
<line x1="320.80" y1="381.30" x2="323.40" y2="381.30" stroke="#8a8a8a" stroke-width="1.7"/>
<text x="317.60" y="383.70" font-size="7.2" text-anchor="end" font-weight="bold" fill="#000" >60</text>
<line x1="323.60" y1="381.30" x2="323.60" y2="383.90" stroke="#8a8a8a" stroke-width="1.7"/>
<text x="323.60" y="392.90" font-size="7.2" text-anchor="middle" font-weight="bold" fill="#000" >0</text>
<line x1="345.15" y1="381.30" x2="345.15" y2="382.90" stroke="#8a8a8a" stroke-width="1.7"/>
<line x1="366.70" y1="381.30" x2="366.70" y2="383.90" stroke="#8a8a8a" stroke-width="1.7"/>
<text x="366.70" y="392.90" font-size="7.2" text-anchor="middle" font-weight="bold" fill="#000" >20</text>
<line x1="388.25" y1="381.30" x2="388.25" y2="382.90" stroke="#8a8a8a" stroke-width="1.7"/>
<line x1="409.80" y1="381.30" x2="409.80" y2="383.90" stroke="#8a8a8a" stroke-width="1.7"/>
<text x="409.80" y="392.90" font-size="7.2" text-anchor="middle" font-weight="bold" fill="#000" >40</text>
<line x1="431.35" y1="381.30" x2="431.35" y2="382.90" stroke="#8a8a8a" stroke-width="1.7"/>
<line x1="452.90" y1="381.30" x2="452.90" y2="383.90" stroke="#8a8a8a" stroke-width="1.7"/>
<text x="452.90" y="392.90" font-size="7.2" text-anchor="middle" font-weight="bold" fill="#000" >60</text>
<line x1="474.45" y1="381.30" x2="474.45" y2="382.90" stroke="#8a8a8a" stroke-width="1.7"/>
<line x1="496.00" y1="381.30" x2="496.00" y2="383.90" stroke="#8a8a8a" stroke-width="1.7"/>
<text x="496.00" y="392.90" font-size="7.2" text-anchor="middle" font-weight="bold" fill="#000" >80</text>
<line x1="517.55" y1="381.30" x2="517.55" y2="382.90" stroke="#8a8a8a" stroke-width="1.7"/>
<line x1="539.10" y1="381.30" x2="539.10" y2="383.90" stroke="#8a8a8a" stroke-width="1.7"/>
<text x="539.10" y="392.90" font-size="7.2" text-anchor="middle" font-weight="bold" fill="#000" >100</text>
<path d="M324.00,255.90 C324.67,255.82 326.33,255.28 328.00,255.40 C329.67,255.52 332.00,256.12 334.00,256.60 C336.00,257.08 335.67,257.65 340.00,258.30 C344.33,258.95 353.33,259.98 360.00,260.50 C366.67,261.02 373.33,261.13 380.00,261.40 C386.67,261.67 393.33,261.88 400.00,262.10 C406.67,262.32 406.67,262.23 420.00,262.70 C433.33,263.17 460.17,264.17 480.00,264.90 C499.83,265.63 529.17,266.73 539.00,267.10" fill="none" stroke="#ff0000" stroke-width="2.9" stroke-linejoin="round"/>
<polygon points="324.61,254.78 326.90,254.78 325.75,252.78" fill="#ff0000"/>
<polygon points="326.76,254.51 329.06,254.51 327.91,252.51" fill="#ff0000"/>
<polygon points="328.92,254.91 331.21,254.91 330.06,252.91" fill="#ff0000"/>
<polygon points="331.07,255.34 333.37,255.34 332.22,253.34" fill="#ff0000"/>
<polygon points="333.23,255.81 335.52,255.81 334.38,253.81" fill="#ff0000"/>
<polygon points="335.38,256.42 337.68,256.42 336.53,254.42" fill="#ff0000"/>
<polygon points="337.54,257.03 339.83,257.03 338.69,255.03" fill="#ff0000"/>
<polygon points="339.69,257.49 341.99,257.49 340.84,255.49" fill="#ff0000"/>
<polygon points="341.85,257.73 344.14,257.73 343.00,255.73" fill="#ff0000"/>
<polygon points="344.00,257.97 346.30,257.97 345.15,255.97" fill="#ff0000"/>
<polygon points="346.16,258.20 348.45,258.20 347.31,256.20" fill="#ff0000"/>
<polygon points="348.31,258.44 350.61,258.44 349.46,256.44" fill="#ff0000"/>
<polygon points="350.47,258.68 352.76,258.68 351.62,256.68" fill="#ff0000"/>
<polygon points="352.62,258.92 354.92,258.92 353.77,256.91" fill="#ff0000"/>
<polygon points="354.78,259.15 357.07,259.15 355.93,257.15" fill="#ff0000"/>
<polygon points="356.93,259.39 359.23,259.39 358.08,257.39" fill="#ff0000"/>
<polygon points="359.09,259.61 361.38,259.61 360.24,257.61" fill="#ff0000"/>
<polygon points="361.24,259.71 363.54,259.71 362.39,257.71" fill="#ff0000"/>
<polygon points="363.40,259.81 365.69,259.81 364.55,257.80" fill="#ff0000"/>
<polygon points="365.55,259.90 367.85,259.90 366.70,257.90" fill="#ff0000"/>
<polygon points="367.71,260.00 370.00,260.00 368.86,258.00" fill="#ff0000"/>
<polygon points="369.86,260.10 372.16,260.10 371.01,258.09" fill="#ff0000"/>
<polygon points="372.02,260.19 374.31,260.19 373.17,258.19" fill="#ff0000"/>
<polygon points="374.17,260.29 376.47,260.29 375.32,258.29" fill="#ff0000"/>
<polygon points="376.33,260.39 378.62,260.39 377.48,258.39" fill="#ff0000"/>
<polygon points="378.48,260.48 380.78,260.48 379.63,258.48" fill="#ff0000"/>
<polygon points="380.64,260.56 382.94,260.56 381.79,258.56" fill="#ff0000"/>
<polygon points="382.79,260.64 385.09,260.64 383.94,258.64" fill="#ff0000"/>
<polygon points="384.95,260.71 387.25,260.71 386.10,258.71" fill="#ff0000"/>
<polygon points="387.10,260.79 389.40,260.79 388.25,258.79" fill="#ff0000"/>
<polygon points="389.26,260.86 391.56,260.86 390.41,258.86" fill="#ff0000"/>
<polygon points="391.41,260.94 393.71,260.94 392.56,258.94" fill="#ff0000"/>
<polygon points="393.57,261.02 395.87,261.02 394.72,259.01" fill="#ff0000"/>
<polygon points="395.72,261.09 398.02,261.09 396.87,259.09" fill="#ff0000"/>
<polygon points="397.88,261.17 400.18,261.17 399.03,259.17" fill="#ff0000"/>
<polygon points="400.03,261.24 402.33,261.24 401.18,259.23" fill="#ff0000"/>
<polygon points="402.19,261.30 404.49,261.30 403.34,259.30" fill="#ff0000"/>
<polygon points="404.34,261.37 406.64,261.37 405.49,259.36" fill="#ff0000"/>
<polygon points="406.50,261.43 408.79,261.43 407.64,259.43" fill="#ff0000"/>
<polygon points="408.65,261.49 410.95,261.49 409.80,259.49" fill="#ff0000"/>
<polygon points="410.81,261.56 413.11,261.56 411.96,259.56" fill="#ff0000"/>
<polygon points="412.96,261.62 415.26,261.62 414.11,259.62" fill="#ff0000"/>
<polygon points="415.12,261.69 417.41,261.69 416.26,259.69" fill="#ff0000"/>
<polygon points="417.27,261.75 419.57,261.75 418.42,259.75" fill="#ff0000"/>
<polygon points="419.43,261.82 421.73,261.82 420.58,259.82" fill="#ff0000"/>
<polygon points="421.58,261.90 423.88,261.90 422.73,259.90" fill="#ff0000"/>
<polygon points="423.74,261.98 426.03,261.98 424.88,259.98" fill="#ff0000"/>
<polygon points="425.89,262.06 428.19,262.06 427.04,260.06" fill="#ff0000"/>
<polygon points="428.05,262.14 430.34,262.14 429.19,260.14" fill="#ff0000"/>
<polygon points="430.20,262.22 432.50,262.22 431.35,260.22" fill="#ff0000"/>
<polygon points="432.36,262.30 434.65,262.30 433.50,260.29" fill="#ff0000"/>
<polygon points="434.51,262.37 436.81,262.37 435.66,260.37" fill="#ff0000"/>
<polygon points="436.67,262.45 438.96,262.45 437.81,260.45" fill="#ff0000"/>
<polygon points="438.82,262.53 441.12,262.53 439.97,260.53" fill="#ff0000"/>
<polygon points="440.98,262.61 443.27,262.61 442.12,260.61" fill="#ff0000"/>
<polygon points="443.13,262.69 445.43,262.69 444.28,260.69" fill="#ff0000"/>
<polygon points="445.29,262.77 447.58,262.77 446.44,260.77" fill="#ff0000"/>
<polygon points="447.44,262.85 449.74,262.85 448.59,260.85" fill="#ff0000"/>
<polygon points="449.60,262.93 451.89,262.93 450.75,260.93" fill="#ff0000"/>
<polygon points="451.75,263.01 454.05,263.01 452.90,261.01" fill="#ff0000"/>
<polygon points="453.91,263.09 456.20,263.09 455.06,261.08" fill="#ff0000"/>
<polygon points="456.06,263.16 458.36,263.16 457.21,261.16" fill="#ff0000"/>
<polygon points="458.22,263.24 460.51,263.24 459.37,261.24" fill="#ff0000"/>
<polygon points="460.37,263.32 462.67,263.32 461.52,261.32" fill="#ff0000"/>
<polygon points="462.53,263.40 464.82,263.40 463.68,261.40" fill="#ff0000"/>
<polygon points="464.68,263.48 466.98,263.48 465.83,261.48" fill="#ff0000"/>
<polygon points="466.84,263.56 469.13,263.56 467.99,261.56" fill="#ff0000"/>
<polygon points="468.99,263.64 471.29,263.64 470.14,261.64" fill="#ff0000"/>
<polygon points="471.15,263.72 473.44,263.72 472.30,261.72" fill="#ff0000"/>
<polygon points="473.30,263.80 475.60,263.80 474.45,261.80" fill="#ff0000"/>
<polygon points="475.46,263.88 477.75,263.88 476.61,261.88" fill="#ff0000"/>
<polygon points="477.61,263.96 479.91,263.96 478.76,261.95" fill="#ff0000"/>
<polygon points="479.77,264.03 482.06,264.03 480.92,262.03" fill="#ff0000"/>
<polygon points="481.92,264.11 484.22,264.11 483.07,262.11" fill="#ff0000"/>
<polygon points="484.08,264.20 486.38,264.20 485.23,262.19" fill="#ff0000"/>
<polygon points="486.23,264.28 488.53,264.28 487.38,262.27" fill="#ff0000"/>
<polygon points="488.38,264.36 490.68,264.36 489.53,262.36" fill="#ff0000"/>
<polygon points="490.54,264.44 492.84,264.44 491.69,262.44" fill="#ff0000"/>
<polygon points="492.70,264.52 495.00,264.52 493.85,262.52" fill="#ff0000"/>
<polygon points="494.85,264.60 497.15,264.60 496.00,262.60" fill="#ff0000"/>
<polygon points="497.00,264.68 499.30,264.68 498.15,262.68" fill="#ff0000"/>
<polygon points="499.16,264.76 501.46,264.76 500.31,262.76" fill="#ff0000"/>
<polygon points="501.32,264.84 503.62,264.84 502.47,262.84" fill="#ff0000"/>
<polygon points="503.47,264.92 505.77,264.92 504.62,262.92" fill="#ff0000"/>
<polygon points="505.62,265.00 507.92,265.00 506.77,263.00" fill="#ff0000"/>
<polygon points="507.78,265.08 510.08,265.08 508.93,263.08" fill="#ff0000"/>
<polygon points="509.94,265.16 512.24,265.16 511.09,263.16" fill="#ff0000"/>
<polygon points="512.09,265.24 514.39,265.24 513.24,263.24" fill="#ff0000"/>
<polygon points="514.25,265.32 516.54,265.32 515.39,263.32" fill="#ff0000"/>
<polygon points="516.40,265.40 518.70,265.40 517.55,263.40" fill="#ff0000"/>
<polygon points="518.56,265.48 520.86,265.48 519.71,263.48" fill="#ff0000"/>
<polygon points="520.71,265.56 523.01,265.56 521.86,263.56" fill="#ff0000"/>
<polygon points="522.87,265.64 525.16,265.64 524.01,263.64" fill="#ff0000"/>
<polygon points="525.02,265.72 527.32,265.72 526.17,263.72" fill="#ff0000"/>
<polygon points="527.18,265.80 529.48,265.80 528.33,263.80" fill="#ff0000"/>
<polygon points="529.33,265.88 531.63,265.88 530.48,263.88" fill="#ff0000"/>
<polygon points="531.49,265.96 533.78,265.96 532.63,263.96" fill="#ff0000"/>
<polygon points="533.64,266.04 535.94,266.04 534.79,264.04" fill="#ff0000"/>
<polygon points="535.79,266.12 538.09,266.12 536.94,264.12" fill="#ff0000"/>
<polygon points="537.95,266.20 540.25,266.20 539.10,264.20" fill="#ff0000"/>
<path d="M325.20,240.20 C325.65,240.57 327.07,241.52 327.90,242.40 C328.73,243.28 329.47,244.48 330.20,245.50 C330.93,246.52 331.60,247.52 332.30,248.50 C333.00,249.48 333.70,250.48 334.40,251.40 C335.10,252.32 335.38,252.62 336.50,254.00 C337.62,255.38 339.60,258.02 341.10,259.70 C342.60,261.38 343.87,262.72 345.50,264.10 C347.13,265.48 349.08,266.80 350.90,268.00 C352.72,269.20 354.58,270.25 356.40,271.30 C358.22,272.35 359.98,273.38 361.80,274.30 C363.62,275.22 365.48,275.93 367.30,276.80 C369.12,277.67 370.88,278.58 372.70,279.50 C374.52,280.42 376.38,281.43 378.20,282.30 C380.02,283.17 381.78,283.88 383.60,284.70 C385.42,285.52 387.28,286.42 389.10,287.20 C390.92,287.98 392.87,288.90 394.50,289.40 C396.13,289.90 397.65,290.10 398.90,290.20 C400.15,290.30 400.15,289.57 402.00,290.00 C403.85,290.43 407.00,291.80 410.00,292.80 C413.00,293.80 416.43,294.92 420.00,296.00 C423.57,297.08 427.98,298.37 431.40,299.30 C434.82,300.23 437.85,301.28 440.50,301.60 C443.15,301.92 445.05,300.90 447.30,301.20 C449.55,301.50 451.72,302.63 454.00,303.40 C456.28,304.17 457.20,304.90 461.00,305.80 C464.80,306.70 472.27,307.85 476.80,308.80 C481.33,309.75 484.78,310.78 488.20,311.50 C491.62,312.22 494.67,312.90 497.30,313.10 C499.93,313.30 500.97,312.25 504.00,312.70 C507.03,313.15 511.70,314.88 515.50,315.80 C519.30,316.72 522.88,317.50 526.80,318.20 C530.72,318.90 536.97,319.70 539.00,320.00" fill="none" stroke="#000" stroke-width="3.7" stroke-linejoin="round"/>
<rect x="323.80" y="238.10" width="3.6" height="3.6" fill="#000"/>
<text x="297.00" y="226.20" font-size="13.5" text-anchor="middle" font-weight="normal" fill="#000" >(d)</text>
<text transform="translate(301,307) rotate(-90)" font-size="9.6" text-anchor="middle" font-weight="bold" fill="#000">Discharge capacity / mAh g<tspan dx="0.8" dy="-4.6" font-size="5.5">-1</tspan></text>
<text x="432.00" y="408.50" font-size="9.6" text-anchor="middle" font-weight="bold" fill="#000" >Cycle number</text>
<line x1="335.30" y1="328.80" x2="353.20" y2="328.80" stroke="#000" stroke-width="1.5"/>
<rect x="342.30" y="327.10" width="3.4" height="3.4" fill="#000"/>
<text x="354.90" y="331.40" font-size="7.5" text-anchor="start" font-weight="bold" fill="#000" >x=0</text>
<line x1="335.30" y1="337.80" x2="353.20" y2="337.80" stroke="#ff0000" stroke-width="1.5"/>
<polygon points="341.80,339.11 346.20,339.11 344.00,335.29" fill="#ff0000"/>
<text x="354.90" y="340.40" font-size="7.5" text-anchor="start" font-weight="bold" fill="#ff0000" >x=0.03</text>
</svg>
</body></html>
